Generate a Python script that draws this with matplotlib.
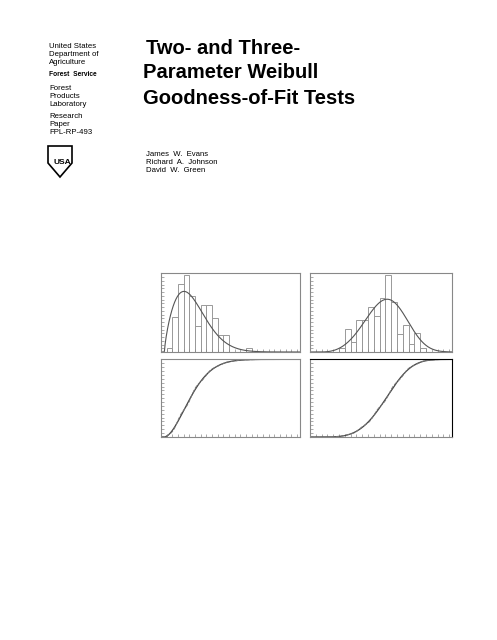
import numpy as np
import matplotlib
matplotlib.use("Agg")
import matplotlib.pyplot as plt
from matplotlib.patches import Polygon

plt.rcParams['font.family'] = ['Liberation Sans', 'DejaVu Sans']

# Histogram data (bin index, count-like height)
left_bins = [1, 2, 3, 4, 5, 6, 7, 8, 9, 10, 11, 15]
left_heights = [13, 102, 200, 227, 163, 77, 138, 138, 100, 50, 50, 13]
right_bins = [5, 6, 7, 8, 9, 10, 11, 12, 13, 14, 15, 16, 17, 18, 19]
right_heights = [13, 68, 28, 93, 93, 133, 107, 160, 225, 148, 53, 80, 23, 55, 13]
# Fitted Weibull parameters (location, scale, shape)
left_fit = (0.6, 5.6, 1.75)
right_fit = (1.5, 12.8, 3.8)
left_peak = 178
right_peak = 155

W, H = 497, 640
fig = plt.figure(figsize=(W/100, H/100), dpi=100)

def wpdf(x, p):
    loc, sc, k = p
    z = np.clip((x - loc) / sc, 0, None)
    return (k / sc) * z**(k-1) * np.exp(-z**k)

def wcdf(x, p):
    loc, sc, k = p
    z = np.clip((x - loc) / sc, 0, None)
    return 1 - np.exp(-z**k)

def mkax(x0, y0, x1, y1):
    ax = fig.add_axes([x0/W, 1-y1/H, (x1-x0)/W, (y1-y0)/H])
    for s in ax.spines.values():
        s.set_color('#888888'); s.set_linewidth(0.8)
    ax.set_xlim(0, 24.5)
    ax.set_xticks(np.arange(0, 25, 1)); ax.set_xticklabels([])
    ax.tick_params(direction='in', length=2, width=0.5, colors='#888888')
    ax.set_yticklabels([])
    return ax

def hist(ax, bins, hts, p, peak):
    ax.bar(bins, hts, width=1, align='edge', fill=False, edgecolor='#999999', lw=0.7)
    xs = np.linspace(0, 24.5, 400)
    pdf = wpdf(xs, p)
    ax.plot(xs, pdf * peak / pdf.max(), color='#555555', lw=0.8)
    ax.set_ylim(0, 232)
    ax.set_yticks(np.arange(0, 232, 11))

def cdf(ax, p):
    xs = np.linspace(0, 24.5, 400)
    ax.plot(xs, wcdf(xs, p), color='#444444', lw=0.9)
    ax.plot(xs, wcdf(xs + 0.15*np.sin(xs*2.3), p), color='#777777', lw=0.7, ls='--')
    ax.set_ylim(0, 1.005)
    ax.set_yticks(np.linspace(0, 1, 21))

a = mkax(161, 273, 300, 352); hist(a, left_bins, left_heights, left_fit, left_peak)
a = mkax(310, 273, 452, 352); hist(a, right_bins, right_heights, right_fit, right_peak)
a = mkax(161, 359, 300, 437); cdf(a, left_fit)
a = mkax(310, 359, 452, 437); cdf(a, right_fit)
for s in a.spines.values():
    s.set_color('black')
a.spines['left'].set_color('#888888'); a.spines['bottom'].set_color('#888888')

def t(x, y, s, **kw):
    fig.text(x/W, 1-y/H, s, va='center', ha='left', **kw)

fs = 5.6
for y, s in [(47, 'United States'), (55, 'Department of'), (63, 'Agriculture'),
             (88, 'Forest'), (96, 'Products'), (104, 'Laboratory'),
             (117, 'Research'), (125, 'Paper'), (133, 'FPL-RP-493')]:
    t(49, y, s, fontsize=fs)
t(49, 75, 'Forest  Service', fontsize=4.8, fontweight='bold')

t(146, 48, 'Two- and Three-', fontsize=14.5, fontweight='bold')
t(143, 73, 'Parameter Weibull', fontsize=14.5, fontweight='bold')
t(143, 98, 'Goodness-of-Fit Tests', fontsize=14.5, fontweight='bold')

for y, s in [(155, 'James  W.  Evans'), (163, 'Richard  A.  Johnson'), (171, 'David  W.  Green')]:
    t(146, y, s, fontsize=fs)

# shield logo
sh = [(48, 146), (72, 146), (72, 163), (60, 177), (48, 163)]
fig.patches.append(Polygon([(x/W, 1-y/H) for x, y in sh], closed=True,
                           transform=fig.transFigure, facecolor='white', edgecolor='black', lw=1.2))
t(53, 163, 'USA', fontsize=6, fontweight='bold')

fig.savefig('out.png', dpi=100)
